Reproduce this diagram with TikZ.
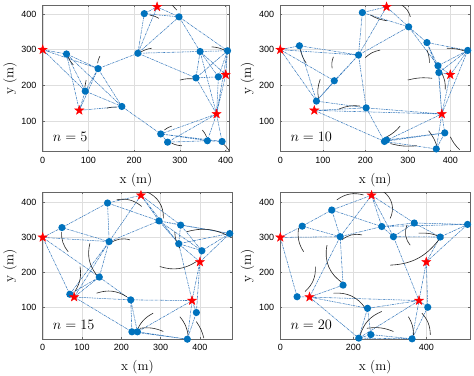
\documentclass[tikz,border=0pt]{standalone}
\usepackage{fontspec}
\newfontfamily\ticksf{Liberation Sans}
\usetikzlibrary{shapes.geometric}
\definecolor{dotblue}{RGB}{0,114,189}
\definecolor{lineblue}{RGB}{60,125,190}
\tikzset{
  edge/.style={draw=lineblue,line width=0.55pt,dash pattern=on 2.5pt off 0.8pt on 0.8pt off 0.8pt},
  trail/.style={draw=black!85,line width=0.6pt},
  uav/.style={circle,fill=dotblue,inner sep=0pt,minimum size=7.2pt},
  target/.style={star,star points=5,star point ratio=2.5,fill=red,draw=red,inner sep=0pt,minimum size=9.5pt},
  gridline/.style={draw=black!13,line width=0.4pt},
  frame/.style={draw=black!60,line width=0.6pt},
  ticklab/.style={font=\ticksf\fontsize{9}{10}\selectfont,inner sep=0pt},
  axlab/.style={font=\fontsize{13.5}{15}\selectfont,inner sep=0pt}
}
% axes box: xmax, ymin, ymax, x ticks, n
\newcommand{\plotbox}[5]{%
  \foreach \x in {#4}{
    \draw[gridline] (\x,#2) -- (\x,#3);
    \draw[frame] (\x,#2) -- ++(0,2pt) (\x,#3) -- ++(0,-2pt);
    \node[ticklab,anchor=north,yshift=-5pt] at (\x,#2) {\x};}
  \foreach \y in {100,200,300,400}{
    \draw[gridline] (0,\y) -- (#1,\y);
    \draw[frame] (0,\y) -- ++(2pt,0) (#1,\y) -- ++(-2pt,0);
    \node[ticklab,anchor=east,xshift=-6pt] at (0,\y) {\y};}
  \draw[frame] (0,#2) rectangle (#1,#3);
  \node[axlab,yshift=-28pt] (xlab) at ({#1/2},#2) {x (m)};
  \node[axlab,rotate=90] (ylab) at ([xshift=-32.7pt]0,{(#2+#3)/2}) {y (m)};
  \node[axlab,anchor=base west] (nlab) at ([shift={(10pt,10pt)}]0,#2) {$n=#5$};
}
\newcommand{\targets}{%
  \foreach \n/\x/\y in {s1/0/300,s2/80/130,s3/250/420,s4/400/230,s5/380/120}
    \coordinate (\n) at (\x,\y);}

\begin{document}
\begin{tikzpicture}
\useasboundingbox (0,0) rectangle (474pt,375pt);

% n = 5
\begin{scope}[shift={(42.7pt,218.2pt)},x=0.4575pt,y=0.357pt]
\plotbox{408}{14}{425}{0,100,200,300,400}{5}
\targets
\foreach \n/\x/\y in {a1/222/401,a2/298/392,a3/52/288,a4/208/290,a5/344/295,
  a6/404/297,a7/121/247,a8/335/221,a9/384/224,a10/93/184,a11/173/141,
  a12/258/64,a13/273/41,a14/360/45,a15/392/43}
  \coordinate (\n) at (\x,\y);
\begin{scope}
\clip (0,14) rectangle (408,425);
\draw[edge] (s1)--(a3) (s1)--(a7) (s1)--(a10) (a3)--(a7) (a3)--(a10) (a3)--(s2)
  (a3)--(a11) (a7)--(a10) (a7)--(s2) (a7)--(a11) (a7)--(a4) (a10)--(s2)
  (a10)--(a11) (s2)--(a11) (a11)--(a12) (a4)--(a1) (a4)--(s3) (a4)--(a2)
  (a4)--(a5) (a4)--(a8) (a1)--(s3) (a1)--(a2) (s3)--(a2) (a2)--(a5) (a2)--(a6)
  (a5)--(a6) (a5)--(a8) (a5)--(a9) (a5)--(s4) (a6)--(a8) (a6)--(a9) (a6)--(s4)
  (a6)--(s5) (a8)--(a9) (a8)--(s5) (a9)--(s4) (a9)--(s5) (s4)--(s5) (a5)--(s5)
  (s5)--(a12) (s5)--(a13) (s5)--(a14) (s5)--(a15) (a12)--(a13) (a12)--(a14)
  (a13)--(a14) (a14)--(a15) (a12)--(a15);
\draw[trail] (234,397) to[bend left=10] (254,388) (283,425) to[bend left=10] (293,411)
  (215,294) to[bend left=10] (238,304) (369,308) to[bend left=10] (397,299)
  (300,215) to[bend left=10] (331,218) (266,75) to[bend left=10] (282,86)
  (282,38) to[bend right=10] (304,31) (349,75) to[bend left=10] (358,56)
  (393,38) to[bend left=10] (409,14) (120,262) to[bend left=10] (125,282)
  (92,195) to[bend left=10] (95,215) (56,279) to[bend right=10] (67,257)
  (140,136) to[bend left=10] (162,139);
\end{scope}
\foreach \i in {1,...,15} \node[uav] (a\i-dot) at (a\i) {};
\foreach \i in {1,...,5} \node[target] (s\i-mark) at (s\i) {};
\end{scope}

% n = 10
\begin{scope}[shift={(280.3pt,218.2pt)},x=0.425pt,y=0.357pt]
\plotbox{447}{14}{425}{0,100,200,300,400}{10}
\targets
\foreach \n/\x/\y in {b1/193/404,b2/302/364,b3/45/311,b4/184/285,b5/345/320,
  b6/441/298,b7/371/255,b8/373/236,b9/127/213,b10/85/156,b11/202/137,
  b12/245/43,b13/387/67,b14/367/22,b15/250/47}
  \coordinate (\n) at (\x,\y);
\begin{scope}
\clip (0,14) rectangle (447,425);
\draw[edge] (s1)--(b3) (s1)--(b4) (s1)--(b9) (s1)--(b10) (b3)--(b4) (b3)--(b10)
  (b4)--(b1) (b4)--(s3) (b4)--(b2) (b4)--(b9) (b4)--(b10) (b4)--(b11) (b9)--(b10)
  (b10)--(b11) (s2)--(b11) (s2)--(s5) (s2)--(b12) (b1)--(s3) (b1)--(b2)
  (s3)--(b2) (b2)--(b5) (b2)--(b7) (b5)--(b6) (b5)--(b7) (b5)--(b8) (b6)--(b7)
  (b6)--(b8) (b6)--(s4) (b6)--(s5) (b7)--(b8) (b7)--(s4) (b8)--(s4) (b8)--(s5)
  (b7)--(s5) (s4)--(s5) (b11)--(b12) (b11)--(s5) (b12)--(s5) (b12)--(b13)
  (b12)--(b14) (s5)--(b13) (s5)--(b14) (b13)--(b14) (b15)--(b13);
\draw[trail] (286,425) to[bend left=20] (306,392) (212,397) to[bend right=10] (251,381)
  (200,278) to[bend left=15] (235,299) (47,301) to[bend right=10] (61,262)
  (122,248) to[bend left=15] (125,280) (90,163) to[bend left=15] (94,217)
  (137,133) to[bend left=15] (188,142) (251,56) to[bend right=10] (282,86)
  (259,37) to[bend right=10] (321,31) (392,304) to[bend left=10] (439,294)
  (345,299) to[bend left=10] (351,264) (300,215) to[bend left=10] (357,220)
  (380,234) to[bend left=15] (388,189) (349,73) to[bend left=10] (369,28)
  (400,56) to[bend right=10] (422,20);
\end{scope}
\foreach \i in {1,...,15} \node[uav] (b\i-dot) at (b\i) {};
\foreach \i in {1,...,5} \node[target] (s\i-mark) at (s\i) {};
\end{scope}

% n = 15
\begin{scope}[shift={(42.7pt,32.3pt)},x=0.393pt,y=0.351pt]
\plotbox{482}{10}{428}{0,100,200,300,400}{15}
\targets
\foreach \n/\x/\y in {c1/165/398,c2/49/328,c3/169/288,c4/296/347,c5/351/335,
  c6/476/311,c7/346/282,c8/405/262,c9/144/187,c10/69/138,c11/224/122,
  c12/391/86,c13/227/31,c14/241/31,c15/368/10}
  \coordinate (\n) at (\x,\y);
\begin{scope}
\clip (0,10) rectangle (482,428);
\draw[edge] (s1)--(c2) (s1)--(c3) (s1)--(c9) (s1)--(c10) (c2)--(c1) (c2)--(c3)
  (c1)--(c3) (c1)--(s3) (c1)--(c4) (c3)--(c4) (c3)--(s3) (c3)--(c9) (c3)--(c10)
  (c3)--(s2) (c9)--(c10) (c9)--(s2) (c9)--(c11) (c10)--(s2) (s2)--(c11)
  (s2)--(c13) (c11)--(s5) (c11)--(c13) (c11)--(c14) (c13)--(c14) (c14)--(s5)
  (c14)--(c15) (c13)--(c15) (s5)--(c15) (s5)--(c12) (c12)--(c15) (s4)--(c12)
  (s4)--(s5) (s3)--(c4) (s3)--(c5) (s3)--(c7) (c4)--(c5) (c4)--(c7) (c4)--(c8)
  (c4)--(c6) (c5)--(c6) (c5)--(c8) (c5)--(c7) (c6)--(c8) (c6)--(s4) (c6)--(c7)
  (c7)--(c8) (c7)--(s4) (c8)--(s4) (c7)--(s5);
\draw[trail] (188,407) to[bend left=25] (252,388) (264,430) to[bend left=35] (307,354)
  (48,316) to[bend right=20] (65,259) (171,283) to[bend left=25] (222,293)
  (120,283) to[bend right=25] (137,193) (95,217) to[bend left=20] (82,146)
  (137,141) to[bend left=25] (214,131) (239,32) to[bend left=20] (281,84)
  (247,41) to[bend left=15] (307,32) (349,74) to[bend left=15] (370,22)
  (391,60) to[bend left=10] (410,13) (298,217) to[bend right=25] (391,231)
  (336,316) to[bend right=15] (349,269) (366,316) to[bend left=20] (468,307);
\end{scope}
\foreach \i in {1,...,15} \node[uav] (c\i-dot) at (c\i) {};
\foreach \i in {1,...,5} \node[target] (s\i-mark) at (s\i) {};
\end{scope}

% n = 20
\begin{scope}[shift={(280.3pt,32.3pt)},x=0.365pt,y=0.351pt]
\plotbox{520}{10}{428}{0,200,400}{20}
\targets
\foreach \n/\x/\y in {d1/141/378,d2/60/332,d3/164/302,d4/278/331,d5/310/302,
  d6/367/341,d7/438/301,d8/513/337,d9/172/164,d10/46/131,d11/239/98,
  d12/404/101,d13/215/13,d14/248/23,d15/361/11}
  \coordinate (\n) at (\x,\y);
\begin{scope}
\clip (0,10) rectangle (520,428);
\draw[edge] (s1)--(d2) (s1)--(d3) (s1)--(d10) (d2)--(d1) (d2)--(d3) (d1)--(s3)
  (d1)--(d3) (d1)--(d4) (d3)--(s3) (d3)--(d4) (d3)--(d9) (d3)--(s2) (d10)--(s2)
  (s2)--(d9) (s2)--(d11) (s2)--(s5) (s2)--(d13) (d11)--(d13) (d11)--(d14)
  (d11)--(s5) (d13)--(d14) (d13)--(d15) (d14)--(d15) (d13)--(s5) (d15)--(s5)
  (d15)--(d12) (d12)--(s5) (d12)--(s4) (s4)--(s5) (s3)--(d4) (s3)--(d5)
  (s3)--(d6) (d4)--(d5) (d4)--(d6) (d5)--(d6) (d5)--(d7) (d5)--(s5) (d6)--(d7)
  (d6)--(d8) (d7)--(d8) (d7)--(s4) (d8)--(s4) (d4)--(d8);
\draw[trail] (228,421) to[bend right=25] (155,407) (283,430) to[bend left=40] (301,354)
  (50,326) to[bend right=20] (64,259) (169,293) to[bend left=25] (224,307)
  (128,278) to[bend right=35] (173,169) (96,217) to[bend left=25] (68,146)
  (146,141) to[bend left=30] (233,98) (219,22) to[bend left=25] (278,89)
  (237,41) to[bend left=15] (310,32) (351,74) to[bend left=15] (365,22)
  (388,84) to[bend left=20] (411,22) (301,221) to[bend right=25] (434,293)
  (379,312) to[bend left=15] (447,297) (347,335) to[bend right=30] (356,278);
\end{scope}
\foreach \i in {1,...,15} \node[uav] (d\i-dot) at (d\i) {};
\foreach \i in {1,...,5} \node[target] (s\i-mark) at (s\i) {};
\end{scope}
\end{tikzpicture}
\end{document}
